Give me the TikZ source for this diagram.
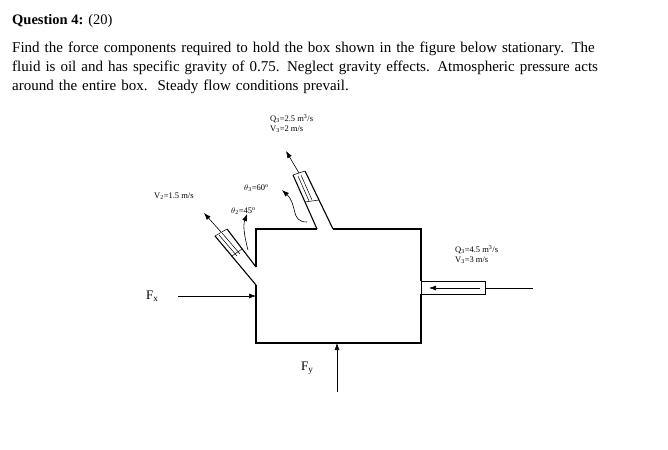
\documentclass[tikz,border=0pt]{standalone}
\usepackage{fontspec}
\usetikzlibrary{arrows.meta}
\setmainfont{Liberation Serif}
\begin{document}
\begin{tikzpicture}[x=1pt,y=-1pt,
  wall/.style={line width=1.1pt},
  thin/.style={line width=0.5pt},
  arr/.style={line width=0.6pt,-{Latex[length=7pt,width=5pt]}},
  lab/.style={font=\fontsize{8.5}{10}\selectfont,inner sep=0pt,anchor=west,align=left},
  big/.style={font=\fontsize{13}{15}\selectfont,inner sep=0pt}]
\useasboundingbox (0,0) rectangle (668,449);
\node[anchor=west,inner sep=0pt,font=\fontsize{14.5}{17}\selectfont] (title) at (12,21) {\textbf{Question 4:} (20)};
\node[anchor=north west,inner sep=0pt,align=left,text width=605,font=\fontsize{15}{19}\selectfont] (body) at (12,42)
{Find the force components required to hold the box shown in the figure below stationary. The fluid is oil and has specific gravity of 0.75. Neglect gravity effects. Atmospheric pressure acts around the entire box.\ \ Steady flow conditions prevail.};
% box walls
\draw[wall] (256,267) -- (256,229) -- (317,229);
\draw[wall] (333,229) -- (421,229) -- (421,281);
\draw[wall] (421,294) -- (421,343) -- (256,343) -- (256,285);
% pipe 2
\draw[wall] (256,267) -- (227,229);
\draw[wall] (256,285) -- (215,236);
\draw[thin] (215,236) -- (227,229);
\draw[thin] (232,256) -- (242,249);
\draw[thin] (219,235) -- (237,256);
\draw[thin] (222,233) -- (240,254);
\coordinate (p2) at (221,232);
\coordinate (p2e) at (204,213);
\draw[arr] (p2) -- (p2e);
% pipe 3
\draw[wall] (317,229) -- (293,175);
\draw[wall] (333,229) -- (305,171);
\draw[thin] (293,175) -- (305,171);
\draw[thin] (305,202) -- (319,200);
\draw[thin] (298,176) -- (309,201);
\draw[thin] (301,175) -- (312,200);
\coordinate (p3) at (299,173);
\coordinate (p3e) at (286,151);
\draw[arr] (p3) -- (p3e);
% pipe 4
\draw[thin] (421,281) rectangle (485,294);
\draw[thin] (485,288) -- (533,288);
\coordinate (p4) at (480,288);
\coordinate (p4e) at (429,288);
\draw[arr] (p4) -- (p4e);
% angle arrows
\coordinate (a2) at (248,250);
\coordinate (a2e) at (247,214);
\draw[arr] (a2) .. controls (244,235) and (243,225) .. (a2e);
\coordinate (a3) at (307,222);
\coordinate (a3e) at (282,190);
\draw[arr] (a3) .. controls (290,222) and (298,205) .. (a3e);
% forces
\coordinate (fx0) at (178,296);
\coordinate (fx1) at (256,296);
\draw[arr] (fx0) -- (fx1);
\coordinate (fy0) at (337,392);
\coordinate (fy1) at (337,343);
\draw[arr] (fy0) -- (fy1);
\node[big,anchor=west] (fx) at (146,296) {F\textsubscript{x}};
\node[big,anchor=west] (fy) at (301,368) {F\textsubscript{y}};
% labels
\node[lab] (q3) at (270,124) {Q\textsubscript{3}=2.5 m\textsuperscript{3}/s\\V\textsubscript{3}=2 m/s};
\node[lab] (t3) at (244,188) {$\theta$\textsubscript{3}=60\textsuperscript{o}};
\node[lab] (v2) at (154,196) {V\textsubscript{2}=1.5 m/s};
\node[lab] (t2) at (231,211) {$\theta$\textsubscript{2}=45\textsuperscript{o}};
\node[lab] (q4) at (455,255) {Q\textsubscript{3}=4.5 m\textsuperscript{3}/s\\V\textsubscript{3}=3 m/s};
\end{tikzpicture}
\end{document}
